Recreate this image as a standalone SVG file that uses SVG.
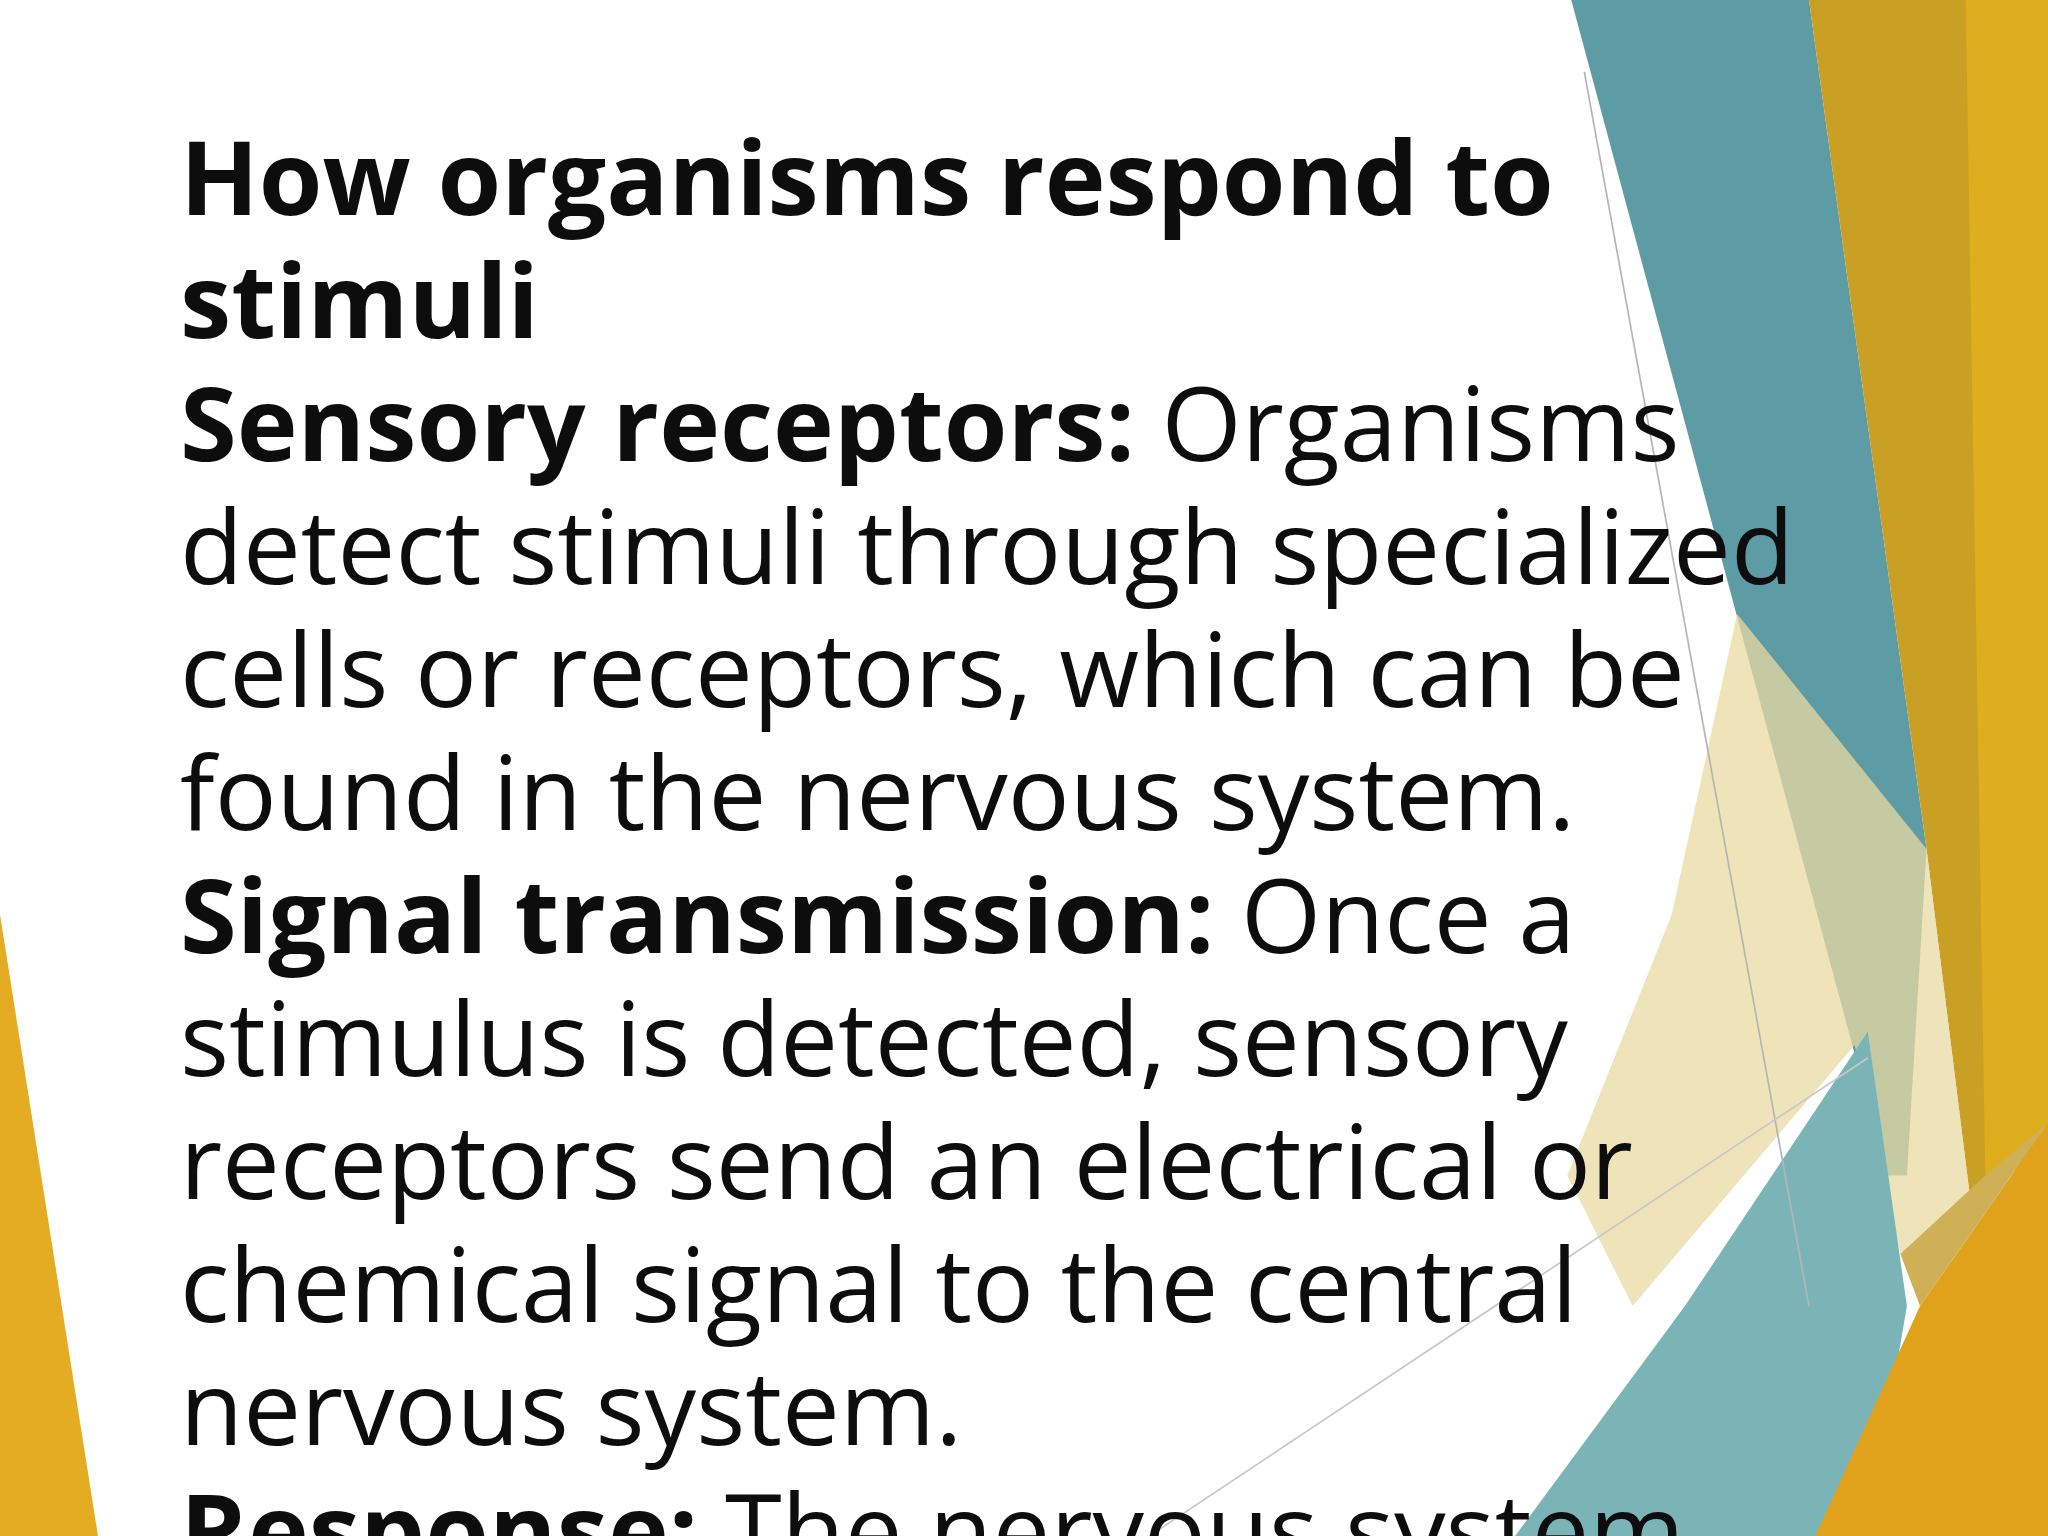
<svg xmlns="http://www.w3.org/2000/svg" width="2048" height="1536" viewBox="0 0 2048 1536">
<style>
.t{font-family:"Open Sans","Noto Sans",sans-serif;font-size:103px;fill:#0d0d0d}
.b{font-weight:bold}
</style>
<rect width="2048" height="1536" fill="#ffffff"/>
<g transform="scale(1.30612)">
<polygon points="1203,0 1385,0 1475,650 1460,900 1445,900" fill="#5e9ca5"/>
<polygon points="1385,0 1568,0 1568,870 1510,930 1475,650" fill="#c9a024"/>
<polygon points="1505,0 1568,0 1568,870 1520,900" fill="#dfae1f"/>
<polygon points="1330,470 1475,650 1510,930 1455,960 1420,800 1250,1000 1200,900 1280,700" fill="#ead9a1" opacity="0.75"/>
<polygon points="1430,790 1460,1000 1430,1176 1160,1176 1290,1000" fill="#7bb4b7"/>
<polygon points="1568,860 1568,1176 1390,1176 1470,1000" fill="#e0a21a"/>
<polygon points="1470,1000 1568,860 1520,900 1455,960" fill="#cfb056"/>
<polygon points="0,700 0,1176 75,1176" fill="#e3ac22"/>
<line x1="1213" y1="55" x2="1385" y2="1000" stroke="#b5b5b5" stroke-width="1.3"/>
<line x1="1430" y1="810" x2="880" y2="1176" stroke="#c8c8c8" stroke-width="1.3"/>
</g>
<text class="t b" x="180" y="215">How organisms respond to</text>
<text class="t b" x="180" y="338">stimuli</text>
<text class="t" x="180" y="461"><tspan class="b">Sensory receptors:</tspan> Organisms</text>
<text class="t" x="180" y="584">detect stimuli through specialized</text>
<text class="t" x="180" y="707">cells or receptors, which can be</text>
<text class="t" x="180" y="830">found in the nervous system.</text>
<text class="t" x="180" y="953"><tspan class="b">Signal transmission:</tspan> Once a</text>
<text class="t" x="180" y="1076">stimulus is detected, sensory</text>
<text class="t" x="180" y="1199">receptors send an electrical or</text>
<text class="t" x="180" y="1322">chemical signal to the central</text>
<text class="t" x="180" y="1445">nervous system.</text>
<text class="t" x="180" y="1568"><tspan class="b">Response:</tspan> The nervous system</text>
</svg>
